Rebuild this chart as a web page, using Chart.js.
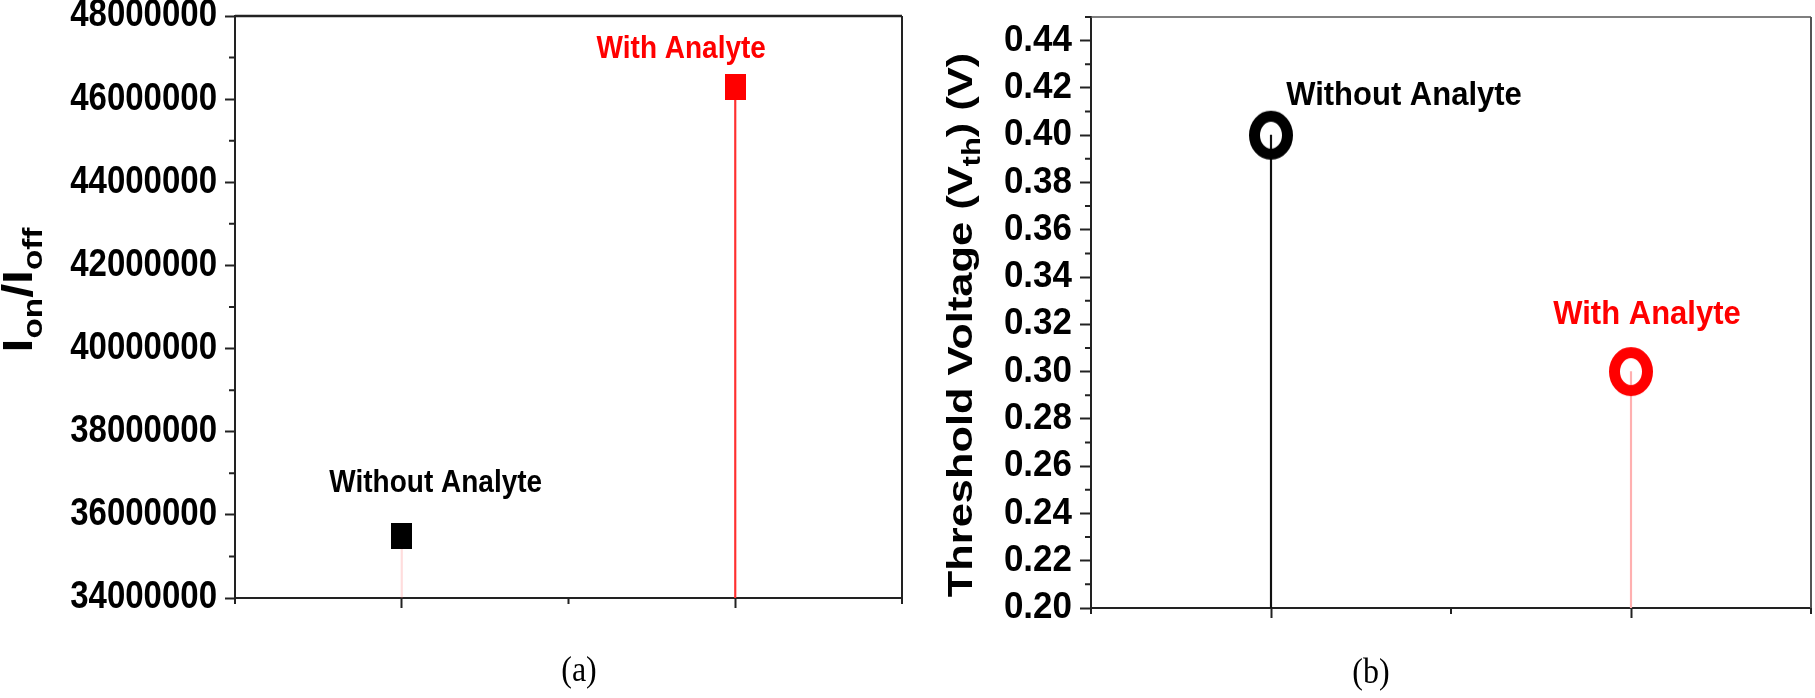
<!DOCTYPE html>
<html>
<head>
<meta charset="utf-8">
<script src="https://cdn.jsdelivr.net/npm/chart.js@4.4.0/dist/chart.umd.min.js"></script>
<style>
  html, body { margin: 0; padding: 0; background: #fff; }
  #wrap { position: relative; width: 1815px; height: 698px; overflow: hidden; }
  canvas { position: absolute; top: 0; }
  #chartA { left: 0; }
  #chartB { left: 915px; }
  .cap {
    position: absolute;
    font-family: 'Liberation Serif', 'Times New Roman', serif;
    font-size: 32px;
    transform: translate(-50%, -50%) scaleY(1.15);
  }
</style>
</head>
<body>
<div id="wrap">
  <canvas id="chartA" width="915" height="698"></canvas>
  <canvas id="chartB" width="900" height="698"></canvas>
  <div class="cap" style="left:579px; top:669px">(a)</div>
  <div class="cap" style="left:1371px; top:671px">(b)</div>
</div>
<script>
// --- data ---
const categories = ['Without Analyte', 'With Analyte'];
const xPos = [1, 2];
const ionIoff = [35500000, 46300000];   // panel (a)
const vth = [0.40, 0.30];               // panel (b)

const yTicksA = [34000000, 36000000, 38000000, 40000000, 42000000, 44000000, 46000000, 48000000];
const yMinorA = [35000000, 37000000, 39000000, 41000000, 43000000, 45000000, 47000000];
const yTicksB = [0.20, 0.22, 0.24, 0.26, 0.28, 0.30, 0.32, 0.34, 0.36, 0.38, 0.40, 0.42, 0.44];
const yMinorB = [0.21, 0.23, 0.25, 0.27, 0.29, 0.31, 0.33, 0.35, 0.37, 0.39, 0.41, 0.43, 0.45];
const xTicks = [1, 2];
const xMinor = [0.5, 1.5, 2.5];

const pointColors = ['#000000', '#ff0000'];

const FONT = "'Liberation Sans', Arial, sans-serif";
Chart.defaults.font.family = FONT;
Chart.defaults.color = '#000';

// marker images (the figure is slightly stretched vertically)
const rectMarker = (color) => {
    const c = document.createElement('canvas');
    c.width = 21; c.height = 26;
    const g = c.getContext('2d');
    g.fillStyle = color;
    g.fillRect(0, 0, 21, 26);
    return c;
};
const ringMarker = (color) => {
    const c = document.createElement('canvas');
    c.width = 46; c.height = 51;
    const g = c.getContext('2d');
    g.strokeStyle = color;
    g.lineWidth = 11;
    g.beginPath();
    g.ellipse(23, 25.5, 16.5, 19, 0, 0, Math.PI * 2);
    g.stroke();
    return c;
};

// --- small plugins ---
const framePlugin = {
    id: 'frame',
    afterDraw(chart, args, opts) {
        const { ctx, chartArea: a } = chart;
        ctx.save();
        ctx.strokeStyle = opts.color;
        ctx.lineWidth = opts.topWidth;
        ctx.beginPath();
        ctx.moveTo(a.left, a.top);
        ctx.lineTo(a.right, a.top);
        ctx.stroke();
        ctx.lineWidth = opts.rightWidth;
        ctx.beginPath();
        ctx.moveTo(a.right, a.top);
        ctx.lineTo(a.right, a.bottom + 5);
        ctx.stroke();
        ctx.restore();
    }
};

const minorTicksPlugin = {
    id: 'minorTicks',
    afterDraw(chart, args, opts) {
        const { ctx, chartArea: a, scales } = chart;
        ctx.save();
        ctx.strokeStyle = opts.color;
        ctx.lineWidth = opts.width;
        ctx.beginPath();
        opts.y.forEach(v => {
            const py = scales.y.getPixelForValue(v);
            ctx.moveTo(a.left - opts.len, py);
            ctx.lineTo(a.left, py);
        });
        opts.x.forEach(v => {
            const px = scales.x.getPixelForValue(v);
            ctx.moveTo(px, a.bottom);
            ctx.lineTo(px, a.bottom + opts.len);
        });
        ctx.stroke();
        ctx.restore();
    }
};

// y tick labels, drawn a little taller than wide like the original
const tickLabelsPlugin = {
    id: 'tickLabels',
    afterDraw(chart, args, opts) {
        const { ctx, chartArea: a, scales } = chart;
        ctx.save();
        ctx.font = opts.font;
        ctx.fillStyle = '#000';
        ctx.textAlign = 'right';
        ctx.textBaseline = 'middle';
        scales.y.ticks.forEach(t => {
            const py = scales.y.getPixelForValue(t.value);
            ctx.save();
            ctx.translate(a.left - opts.offset, py);
            ctx.scale(1, opts.sy);
            ctx.fillText(opts.fmt(t.value), 0, 0);
            ctx.restore();
        });
        ctx.restore();
    }
};

const pointLabelsPlugin = {
    id: 'pointLabels',
    afterDatasetsDraw(chart, args, opts) {
        const { ctx } = chart;
        const meta = chart.getDatasetMeta(0);
        ctx.save();
        ctx.font = opts.font;
        ctx.textAlign = 'center';
        ctx.textBaseline = 'alphabetic';
        meta.data.forEach((pt, i) => {
            const o = opts.offsets[i];
            ctx.save();
            ctx.translate(pt.x + o[0], pt.y + o[1]);
            ctx.scale(1, opts.sy);
            ctx.fillStyle = pointColors[i];
            ctx.fillText(categories[i], 0, 0);
            ctx.restore();
        });
        ctx.restore();
    }
};

// rotated axis title with subscripts
const yTitlePlugin = {
    id: 'yTitle',
    afterDraw(chart, args, opts) {
        const { ctx } = chart;
        const mainFont = `bold ${opts.size}px ${FONT}`;
        const subFont = `bold ${opts.subSize}px ${FONT}`;
        ctx.save();
        let total = 0;
        const widths = opts.parts.map(p => {
            ctx.font = p.sub ? subFont : mainFont;
            const w = ctx.measureText(p.t).width;
            total += w;
            return w;
        });
        ctx.translate(opts.x, opts.y);
        ctx.rotate(-Math.PI / 2);
        ctx.scale(opts.sx, 1);
        ctx.fillStyle = '#000';
        ctx.textAlign = 'left';
        ctx.textBaseline = 'alphabetic';
        let cx = -total / 2;
        opts.parts.forEach((p, i) => {
            ctx.font = p.sub ? subFont : mainFont;
            ctx.fillText(p.t, cx, p.sub ? opts.subDy : 0);
            cx += widths[i];
        });
        ctx.restore();
    }
};

const axisCommon = (tickLen) => ({
    offset: false,
    grid: {
        drawOnChartArea: false,
        drawTicks: true,
        tickLength: tickLen,
        tickWidth: 2,
        tickColor: '#222',
        offset: false
    },
    border: { display: true, color: '#222', width: 2 }
});

const buildChart = (id, cfg) => new Chart(document.getElementById(id), {
    type: 'bar',
    data: {
        datasets: [
            {
                type: 'scatter',
                order: 0,
                data: xPos.map((x, i) => ({ x, y: cfg.values[i] })),
                pointStyle: cfg.markers,
                pointRadius: 12,
                pointHoverRadius: 12
            },
            {
                type: 'bar',
                order: 1,
                data: xPos.map((x, i) => ({ x, y: cfg.values[i] })),
                backgroundColor: cfg.stemColors,
                barThickness: 1.5
            }
        ]
    },
    options: {
        responsive: false,
        animation: false,
        layout: { padding: cfg.padding, autoPadding: false },
        plugins: {
            legend: { display: false },
            tooltip: { enabled: false },
            frame: cfg.frame,
            minorTicks: { y: cfg.yMinor, x: xMinor, len: 6, width: 2, color: '#222' },
            tickLabels: cfg.tickLabels,
            pointLabels: cfg.labels,
            yTitle: cfg.title
        },
        scales: {
            x: {
                type: 'linear',
                min: 0.5,
                max: 2.5,
                ...axisCommon(10),
                ticks: { display: false },
                afterBuildTicks: (s) => { s.ticks = xTicks.map(v => ({ value: v })); },
                afterFit: (s) => { s.height = 0; }
            },
            y: {
                type: 'linear',
                min: cfg.yMin,
                max: cfg.yMax,
                ...axisCommon(cfg.tickLen),
                ticks: { display: false },
                afterBuildTicks: (s) => { s.ticks = cfg.yTicks.map(v => ({ value: v })); },
                afterFit: (s) => { s.width = cfg.yWidth; }
            }
        }
    },
    plugins: [framePlugin, minorTicksPlugin, tickLabelsPlugin, pointLabelsPlugin, yTitlePlugin]
});

// panel (a): Ion/Ioff
buildChart('chartA', {
    values: ionIoff,
    markers: pointColors.map(rectMarker),
    stemColors: ['rgba(255,120,120,0.25)', '#ff3030'],
    padding: { top: 16, right: 13, bottom: 100, left: 0 },
    yWidth: 235,
    yMin: 34000000,
    yMax: 48000000,
    yTicks: yTicksA,
    yMinor: yMinorA,
    tickLen: 10,
    tickLabels: { font: `bold 33px ${FONT}`, sy: 1.15, offset: 18, fmt: (v) => String(v) },
    frame: { color: '#222', topWidth: 2.5, rightWidth: 2 },
    labels: { font: `bold 28px ${FONT}`, sy: 1.15, offsets: [[34, -44], [-54, -29]] },
    title: {
        x: 32, y: 290, size: 42, subSize: 28, subDy: 10, sx: 1.19,
        parts: [{ t: 'I' }, { t: 'on', sub: true }, { t: '/I' }, { t: 'off', sub: true }]
    }
});

// panel (b): threshold voltage
buildChart('chartB', {
    values: vth,
    markers: pointColors.map(ringMarker),
    stemColors: ['#111111', '#ffb0b0'],
    padding: { top: 17, right: 4, bottom: 90, left: 0 },
    yWidth: 176,
    yMin: 0.20,
    yMax: 0.45,
    yTicks: yTicksB,
    yMinor: yMinorB,
    tickLen: 11,
    tickLabels: { font: `bold 35px ${FONT}`, sy: 1.05, offset: 19, fmt: (v) => v.toFixed(2) },
    frame: { color: '#555', topWidth: 1.5, rightWidth: 2 },
    labels: { font: `bold 31px ${FONT}`, sy: 1.05, offsets: [[133, -30], [16, -48]] },
    title: {
        x: 57, y: 325, size: 35, subSize: 25, subDy: 8, sx: 1.24,
        parts: [{ t: 'Threshold Voltage (V' }, { t: 'th', sub: true }, { t: ') (V)' }]
    }
});
</script>
</body>
</html>
